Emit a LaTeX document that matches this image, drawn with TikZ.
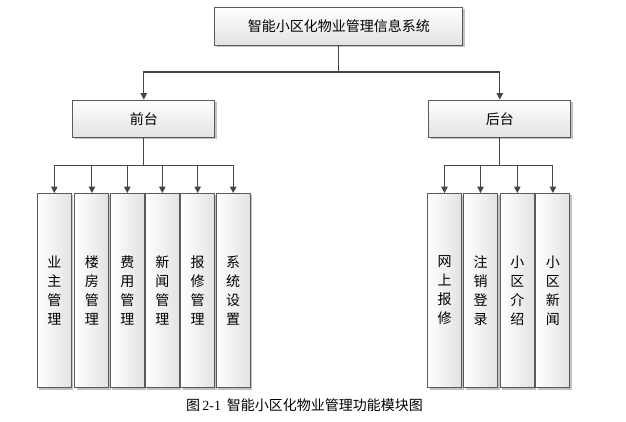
\documentclass[tikz,border=0pt]{standalone}
\usepackage{fontspec}
\setmainfont{Liberation Serif}
\newfontfamily\cjk{Noto Sans CJK SC}
\usetikzlibrary{arrows.meta,shadows}
\definecolor{boxline}{HTML}{5A5A5A}
\definecolor{boxfill}{HTML}{E2E2E2}
\definecolor{connc}{HTML}{454545}
\tikzset{
  x=1pt, y=-1pt,
  box/.style={draw=boxline, line width=0.9pt, left color=white, right color=boxfill,
    drop shadow={shadow xshift=2pt, shadow yshift=-2pt, fill=black!40, opacity=0.6},
    inner sep=0pt, align=center, font=\cjk\fontsize{14}{19}\selectfont},
  hbox/.style={box, top color=white, bottom color=boxfill},
  vbox/.style={box, minimum width=34pt, minimum height=194pt},
  conn/.style={draw=connc, line width=1.1pt, -{Triangle[length=6.5pt,width=6.5pt]}},
}
\begin{document}
\begin{tikzpicture}
\useasboundingbox[fill=white] (0,0) rectangle (626,422);
% main nodes
\node[hbox, minimum width=248pt, minimum height=37.7pt] (top) at (338.8,26.2) {智能小区化物业管理信息系统};
\node[hbox, minimum width=142pt, minimum height=37.3pt] (qt) at (143.8,118.7) {前台};
\node[hbox, minimum width=142pt, minimum height=37.3pt] (ht) at (499.8,118.7) {后台};
% front modules
\node[vbox] (f1) at (54.3,290.5) {业\\主\\管\\理};
\node[vbox] (f2) at (91.9,290.5) {楼\\房\\管\\理};
\node[vbox] (f3) at (127.3,290.5) {费\\用\\管\\理};
\node[vbox] (f4) at (162.3,290.5) {新\\闻\\管\\理};
\node[vbox] (f5) at (197.7,290.5) {报\\修\\管\\理};
\node[vbox] (f6) at (233.2,290.5) {系\\统\\设\\置};
% back modules
\node[vbox] (b1) at (444.5,290.5) {网\\上\\报\\修};
\node[vbox] (b2) at (480.5,290.5) {注\\销\\登\\录};
\node[vbox] (b3) at (517.3,290.5) {小\\区\\介\\绍};
\node[vbox] (b4) at (552.9,290.5) {小\\区\\新\\闻};
% connectors
\coordinate (jt) at (338.8,72);
\draw[connc, line width=1.1pt] (top.south) -- (jt);
\draw[conn] (jt) -| (qt.north);
\draw[conn] (jt) -| (ht.north);
\coordinate (jl) at (143.8,165.5);
\draw[connc, line width=1.1pt] (qt.south) -- (jl);
\foreach \n in {f1,f2,f3,f4,f5,f6} \draw[conn] (jl) -| (\n.north);
\coordinate (jr) at (499.8,165.5);
\draw[connc, line width=1.1pt] (ht.south) -- (jr);
\foreach \n in {b1,b2,b3,b4} \draw[conn] (jr) -| (\n.north);
% caption
\node[font=\fontsize{14}{16}\selectfont, inner sep=0pt] (cap) at (304.5,405.5) {{\cjk 图}\,2-1\, {\cjk 智能小区化物业管理功能模块图}};
\end{tikzpicture}
\end{document}
